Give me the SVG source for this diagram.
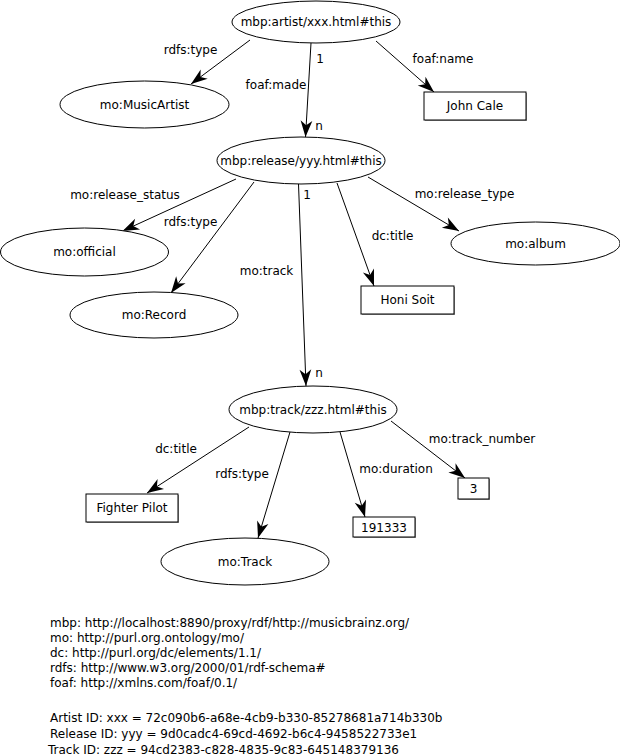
<svg xmlns="http://www.w3.org/2000/svg" width="620" height="756" viewBox="0 0 620 756">
<style>
text{font-family:"DejaVu Sans","Liberation Sans",sans-serif;font-size:12px;fill:#000}
.c{text-anchor:middle}
.n ellipse,.n rect.b{fill:#fff;stroke:#000;stroke-width:1}
.n rect.s{fill:#999;stroke:none}
#edges line{stroke:#000;stroke-width:1;marker-end:url(#ah)}
</style>
<defs>
<marker id="ah" markerUnits="userSpaceOnUse" orient="auto" refX="0" refY="0" markerWidth="20" markerHeight="20" viewBox="-15 -8 17 16" overflow="visible">
<path d="M0,0 L-14,-5 L-10,0 L-14,5 Z" fill="#000"/>
</marker>
</defs>
<rect width="620" height="756" fill="#fff"/>
<g id="edges">
<line x1="250" y1="40" x2="191" y2="84"/>
<line x1="311" y1="43" x2="305.5" y2="137"/>
<line x1="376" y1="41" x2="434" y2="92"/>
<line x1="236" y1="179" x2="122.6" y2="231"/>
<line x1="254" y1="182" x2="171" y2="293"/>
<line x1="298.5" y1="184" x2="306" y2="386"/>
<line x1="337" y1="183" x2="374" y2="286"/>
<line x1="368" y1="177" x2="459" y2="231"/>
<line x1="249" y1="427" x2="147" y2="493"/>
<line x1="290" y1="432" x2="258" y2="538"/>
<line x1="340" y1="432" x2="365" y2="517"/>
<line x1="391" y1="421" x2="465" y2="478"/>
</g>
<g id="edge-labels">
<text class="c" x="190.5" y="54">rdfs:type</text>
<text class="c" x="320" y="63">1</text>
<text class="c" x="276" y="89">foaf:made</text>
<text class="c" x="319" y="130">n</text>
<text class="c" x="443" y="63">foaf:name</text>
<text class="c" x="125" y="199">mo:release_status</text>
<text class="c" x="190.5" y="226">rdfs:type</text>
<text class="c" x="307" y="199">1</text>
<text class="c" x="266.5" y="275">mo:track</text>
<text class="c" x="392.5" y="240">dc:title</text>
<text class="c" x="464.5" y="198">mo:release_type</text>
<text class="c" x="319" y="377">n</text>
<text class="c" x="176" y="453">dc:title</text>
<text class="c" x="242" y="478">rdfs:type</text>
<text class="c" x="396" y="473">mo:duration</text>
<text class="c" x="482" y="443">mo:track_number</text>
</g>
<g id="artist" class="n"><ellipse cx="316" cy="22" rx="84" ry="21"/><text class="c" x="316" y="26">mbp:artist/xxx.html#this</text></g>
<g id="musicartist" class="n"><ellipse cx="144.5" cy="104.5" rx="84.5" ry="23.5"/><text class="c" x="144.5" y="109">mo:MusicArtist</text></g>
<g id="johncale" class="n"><rect class="s" x="425" y="93" width="102" height="28"/><rect class="b" x="424" y="92" width="102" height="28"/><text class="c" x="475" y="110">John Cale</text></g>
<g id="release" class="n"><ellipse cx="301" cy="160.5" rx="84" ry="23.5"/><text class="c" x="301" y="165">mbp:release/yyy.html#this</text></g>
<g id="official" class="n"><ellipse cx="84.5" cy="252" rx="84" ry="24"/><text class="c" x="84.5" y="256">mo:official</text></g>
<g id="record" class="n"><ellipse cx="154" cy="315" rx="84" ry="23"/><text class="c" x="154" y="319">mo:Record</text></g>
<g id="honisoit" class="n"><rect class="s" x="362" y="287" width="93" height="28"/><rect class="b" x="361" y="286" width="93" height="28"/><text class="c" x="407.5" y="304">Honi Soit</text></g>
<g id="album" class="n"><ellipse cx="535.5" cy="243.5" rx="84.5" ry="21.5"/><text class="c" x="535.5" y="247.5">mo:album</text></g>
<g id="track" class="n"><ellipse cx="313" cy="409.5" rx="84" ry="23.5"/><text class="c" x="313" y="414">mbp:track/zzz.html#this</text></g>
<g id="fighterpilot" class="n"><rect class="s" x="87" y="495" width="92" height="28"/><rect class="b" x="86" y="494" width="92" height="28"/><text class="c" x="132" y="512">Fighter Pilot</text></g>
<g id="motrack" class="n"><ellipse cx="245" cy="561.5" rx="84" ry="23.5"/><text class="c" x="245" y="566">mo:Track</text></g>
<g id="duration" class="n"><rect class="s" x="354" y="518" width="62" height="20"/><rect class="b" x="353" y="517" width="62" height="20"/><text class="c" x="384" y="531.5">191333</text></g>
<g id="tracknumber" class="n"><rect class="s" x="459" y="479" width="31" height="21"/><rect class="b" x="458" y="478" width="31" height="21"/><text class="c" x="473.5" y="493">3</text></g>
<g id="legend">
<text x="50" y="627">mbp: http://localhost:8890/proxy/rdf/http://musicbrainz.org/</text>
<text x="50" y="642">mo: http://purl.org.ontology/mo/</text>
<text x="50" y="657">dc: http://purl.org/dc/elements/1.1/</text>
<text x="50" y="672">rdfs: http://www.w3.org/2000/01/rdf-schema#</text>
<text x="50" y="687">foaf: http://xmlns.com/foaf/0.1/</text>
<text x="50" y="722">Artist ID: xxx = 72c090b6-a68e-4cb9-b330-85278681a714b330b</text>
<text x="50" y="738">Release ID: yyy = 9d0cadc4-69cd-4692-b6c4-9458522733e1</text>
<text x="48" y="754">Track ID: zzz = 94cd2383-c828-4835-9c83-645148379136</text>
</g>
</svg>
